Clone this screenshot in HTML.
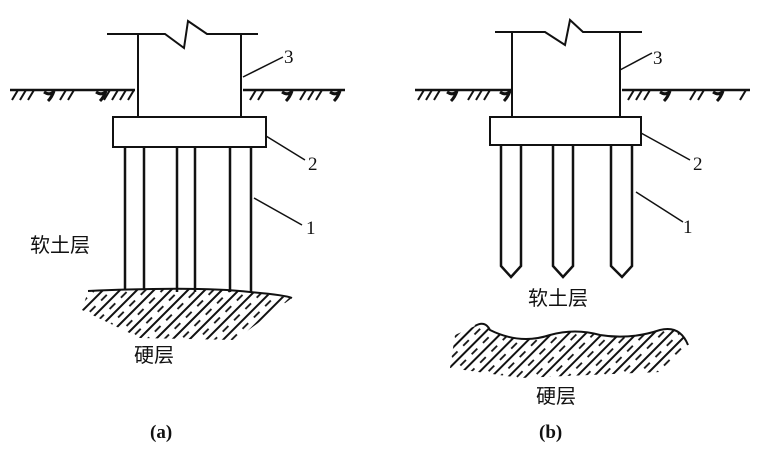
<!DOCTYPE html>
<html><head><meta charset="utf-8"><style>
html,body{margin:0;padding:0;background:#fff;}
svg{display:block;}
text{font-family:"Liberation Sans","Noto Sans CJK SC",sans-serif;fill:#111;}
.n{font-family:"Liberation Serif",serif;font-size:19px;}
.c{font-size:20px;}
</style></head><body>
<svg width="760" height="455" viewBox="0 0 760 455" xmlns="http://www.w3.org/2000/svg">
<defs>
<pattern id="h" width="16" height="12" patternUnits="userSpaceOnUse" patternTransform="rotate(-45)">
<line x1="0" y1="2" x2="16" y2="2" stroke="#111" stroke-width="2"/>
<line x1="3" y1="8" x2="11" y2="8" stroke="#111" stroke-width="1.8"/>
</pattern>
</defs>
<g stroke="#111" fill="none" stroke-width="2">
<path d="M107 34 H165 L184 48 L188 21 L207 34 H258"/>
<path d="M138 34 V117 M241 34 V117"/>
<path d="M10 90 H135 M243 90 H345" stroke-width="2.5"/>
<path d="M12 100 l6-10 M20 100 l6-10 M28 100 l6-10 M60 100 l6-10 M68 100 l6-10 M104 100 l6-10 M112 100 l6-10 M120 100 l6-10 M128 100 l6-10 M250 100 l6-10 M258 100 l6-10 M300 100 l6-10 M308 100 l6-10 M316 100 l6-10"/>
<path d="M44 92 q6 4 10 -1 q-2 6 -6 10 M96 92 q6 4 10 -1 q-2 6 -6 10 M282 92 q6 4 10 -1 q-2 6 -6 10 M330 92 q6 4 10 -1 q-2 6 -6 10" stroke-width="3"/>
<rect x="113" y="117" width="153" height="30"/>
<path d="M125 147 V290 M144 147 V290 M177 147 V292 M195 147 V292 M230 147 V292 M251 147 V292" stroke-width="2.5"/>
<path d="M88 291 Q200 286 250 292 Q285 295 292 298"/>
<path d="M88 291 L82 310 L140 338 L235 340 L292 298 L250 292 Q200 286 88 291Z" fill="url(#h)" stroke="none"/>
<path d="M243 77 L283 57 M266 136 L305 160 M254 198 L302 225" stroke-width="1.5"/>
<path d="M495 32 H545 L565 45 L570 20 L583 32 H642"/>
<path d="M512 32 V117 M620 32 V117"/>
<path d="M415 90 H512 M622 90 H750" stroke-width="2.5"/>
<path d="M418 100 l6-10 M426 100 l6-10 M434 100 l6-10 M468 100 l6-10 M476 100 l6-10 M484 100 l6-10 M628 100 l6-10 M636 100 l6-10 M644 100 l6-10 M690 100 l6-10 M698 100 l6-10 M740 100 l6-10"/>
<path d="M447 92 q6 4 10 -1 q-2 6 -6 10 M500 92 q6 4 10 -1 q-2 6 -6 10 M660 92 q6 4 10 -1 q-2 6 -6 10 M713 92 q6 4 10 -1 q-2 6 -6 10" stroke-width="3"/>
<rect x="490" y="117" width="151" height="28"/>
<path d="M501 145 V266 L511 277 L521 266 V145 M553 145 V266 L563 277 L573 266 V145 M611 145 V266 L622 277 L632 266 V145" stroke-width="2.5"/>
<path d="M475 326 Q485 320 490 330 Q520 345 550 335 Q575 328 600 335 Q630 340 660 330 Q680 325 688 345"/>
<path d="M475 326 Q485 320 490 330 Q520 345 550 335 Q575 328 600 335 Q630 340 660 330 Q680 325 688 345 L660 372 L520 378 L450 368 L455 335 Z" fill="url(#h)" stroke="none"/>
<path d="M620 70 L652 53 M641 133 L690 160 M636 192 L683 222" stroke-width="1.5"/>
</g>
<text class="n" x="284" y="63">3</text>
<text class="n" x="308" y="170">2</text>
<text class="n" x="306" y="234">1</text>
<text class="c" x="30" y="252">软土层</text>
<text class="c" x="134" y="362">硬层</text>
<text class="n" x="150" y="438" font-weight="bold" font-size="17">(a)</text>
<text class="n" x="653" y="64">3</text>
<text class="n" x="693" y="170">2</text>
<text class="n" x="683" y="233">1</text>
<text class="c" x="528" y="305">软土层</text>
<text class="c" x="536" y="403">硬层</text>
<text class="n" x="539" y="438" font-weight="bold" font-size="17">(b)</text>
</svg>
</body></html>
